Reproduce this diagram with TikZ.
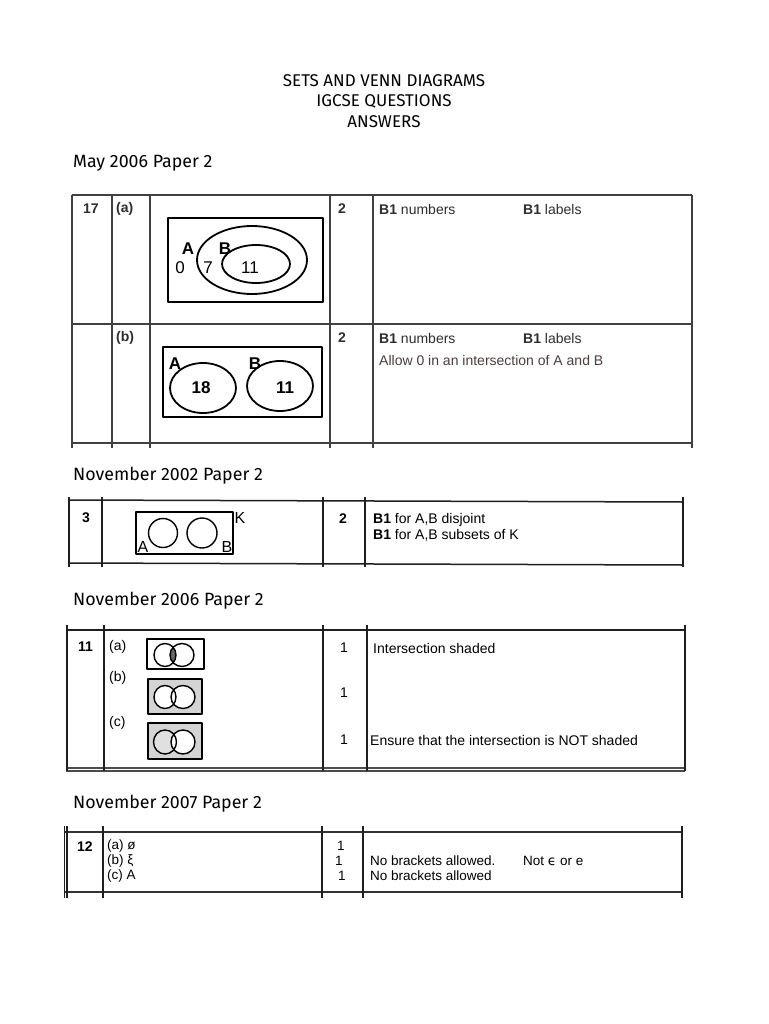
\documentclass[tikz,border=0pt]{standalone}
\usepackage{fontspec}
\setmainfont{Liberation Sans}
\newfontfamily\hand{Fira Sans}
\newfontfamily\dejavu{DejaVu Sans}
\definecolor{allowc}{RGB}{75,62,62}
\begin{document}
\begin{tikzpicture}[x=1pt,y=-1pt,line join=round,
  grida/.style={line width=1.3pt, draw=black!75},
  gridb/.style={line width=1.5pt, draw=black!88},
  ttl/.style={inner sep=0pt, font=\hand\fontsize{17}{18}\selectfont},
  head/.style={anchor=west, inner sep=0pt, font=\hand\fontsize{17.8}{19}\selectfont},
  ta/.style={anchor=west, inner sep=0pt, text=black!82, font=\fontsize{14}{16}\selectfont},
  tb/.style={anchor=west, inner sep=0pt, text=black, font=\fontsize{14}{16}\selectfont},
  tc/.style={anchor=west, inner sep=0pt, text=black, font=\fontsize{13.5}{15}\selectfont},
  vlab/.style={inner sep=0pt, font=\fontsize{16}{18}\selectfont},
  venn/.style={line width=1.8pt, draw=black},
  vennt/.style={line width=1.4pt, draw=black}]
\useasboundingbox[fill=white] (0,0) rectangle (768,1024);

% ---------- title ----------
\node[ttl] (title1) at (384,81) {SETS AND VENN DIAGRAMS};
\node[ttl] (title2) at (384,101) {IGCSE QUESTIONS};
\node[ttl] (title3) at (384,122) {ANSWERS};

% ---------- May 2006 ----------
\node[head] (h1) at (73,163) {May 2006 Paper 2};
\draw[grida] (72,195) -- (692,195);
\draw[grida] (72,324) -- (692,324);
\draw[grida] (72,443) -- (692,443);
\foreach \x in {72,112,150,330,373,692} \draw[grida] (\x,195) -- (\x,448);
\node[ta,font=\bfseries\fontsize{14}{16}\selectfont] (q17) at (83,209) {17};
\node[ta,font=\bfseries\fontsize{14}{16}\selectfont] (q17a) at (116,209) {(a)};
\node[ta,font=\bfseries\fontsize{14}{16}\selectfont] (m17a) at (338,209) {2};
\node[ta] (c17a1) at (379,209) {\textbf{B1} numbers};
\node[ta] (c17a2) at (523,209) {\textbf{B1} labels};
\node[ta,font=\bfseries\fontsize{14}{16}\selectfont] (q17b) at (116,338) {(b)};
\node[ta,font=\bfseries\fontsize{14}{16}\selectfont] (m17b) at (338,338) {2};
\node[ta] (c17b1) at (379,338) {\textbf{B1} numbers};
\node[ta] (c17b2) at (523,338) {\textbf{B1} labels};
\node[ta,text=allowc] (c17b3) at (379,360) {Allow 0 in an intersection of A and B};

% Venn 17(a)
\draw[venn] (168,218) rectangle (323,302);
\draw[venn] (252,260) ellipse [x radius=55, y radius=34];
\draw[venn] (256,264) ellipse [x radius=34, y radius=19];
\node[vlab,font=\bfseries\fontsize{17}{18}\selectfont] (va) at (188,249) {A};
\node[vlab,font=\bfseries\fontsize{17}{18}\selectfont] (vb) at (225,249) {B};
\node[vlab,font=\fontsize{17}{18}\selectfont] (v0) at (180,268) {0};
\node[vlab,font=\fontsize{17}{18}\selectfont] (v7) at (208,268) {7};
\node[vlab,font=\fontsize{17}{18}\selectfont] (v11) at (250,268) {11};

% Venn 17(b)
\draw[venn] (163,347) rectangle (322,417);
\draw[venn] (203,388) ellipse [x radius=33, y radius=25];
\draw[venn] (280,386) ellipse [x radius=33, y radius=25];
\node[vlab,font=\bfseries\fontsize{17}{18}\selectfont] (vba) at (175,364) {A};
\node[vlab,font=\bfseries\fontsize{17}{18}\selectfont] (vbb) at (255,364) {B};
\node[vlab,font=\bfseries\fontsize{17}{18}\selectfont] (v18) at (201,388) {18};
\node[vlab,font=\bfseries\fontsize{17}{18}\selectfont] (vb11) at (285,388) {11};

% ---------- November 2002 ----------
\node[head] (h2) at (73,476) {November 2002 Paper 2};
\draw[gridb] (68,500) -- (683,502);
\draw[gridb] (68,563) -- (683,565);
\foreach \x in {69,102,323,365,683} \draw[gridb] (\x,497) -- (\x,567);
\node[tb,font=\bfseries\fontsize{14}{16}\selectfont] (q3) at (82,518) {3};
\node[tb,font=\bfseries\fontsize{14}{16}\selectfont] (m3) at (339,519) {2};
\node[tb] (c3a) at (373,520) {\textbf{B1} for A,B disjoint};
\node[tb] (c3b) at (373,535) {\textbf{B1} for A,B subsets of K};
\draw[vennt] (136,512) rectangle (233,554);
\draw[vennt] (163,533) circle [radius=14.5];
\draw[vennt] (202,533) circle [radius=15];
\node[vlab] (kk) at (240,518) {K};
\node[vlab] (ka) at (143,547) {A};
\node[vlab] (kb) at (227,547) {B};

% ---------- November 2006 ----------
\node[head] (h3) at (73,601) {November 2006 Paper 2};
\draw[gridb] (66,630) -- (685,630);
\draw[line width=1.2pt, black!70] (66,768) -- (685,768);
\draw[line width=1.2pt, black!70] (66,771) -- (685,771);
\foreach \x in {67,104,323,367,685} \draw[gridb] (\x,625) -- (\x,771);
\node[tb,font=\bfseries\fontsize{14}{16}\selectfont] (q11) at (78,647) {11};
\node[tb] (q11a) at (109,647) {(a)};
\node[tb] (q11b) at (109,678) {(b)};
\node[tb] (q11c) at (109,723) {(c)};
\node[tb] (m11a) at (340,648) {1};
\node[tb] (m11b) at (340,693) {1};
\node[tb] (m11c) at (340,740) {1};
\node[tb] (c11a) at (373,648) {Intersection shaded};
\node[tb] (c11c) at (370,740) {Ensure that the intersection is NOT shaded};
% (a)
\begin{scope}
  \clip (165,655) ellipse [x radius=11, y radius=11.5];
  \fill[black!60] (182,655) ellipse [x radius=12, y radius=11.5];
\end{scope}
\draw[vennt] (147,639) rectangle (204,669);
\draw[vennt] (165,655) ellipse [x radius=11, y radius=11.5];
\draw[vennt] (182,655) ellipse [x radius=12, y radius=11.5];
% (b)
\fill[black!17] (148,679) rectangle (202,714);
\fill[white] (165,697) ellipse [x radius=11, y radius=11.5];
\fill[white] (183,697) ellipse [x radius=12, y radius=11.5];
\draw[vennt] (148,679) rectangle (202,714);
\draw[vennt] (165,697) ellipse [x radius=11, y radius=11.5];
\draw[vennt] (183,697) ellipse [x radius=12, y radius=11.5];
% (c)
\fill[black!17] (148,723) rectangle (202,759);
\fill[black!12] (165,742) ellipse [x radius=11.5, y radius=12];
\fill[white] (183,742) ellipse [x radius=12, y radius=12];
\draw[vennt] (148,723) rectangle (202,759);
\draw[vennt] (165,742) ellipse [x radius=11.5, y radius=12];
\draw[vennt] (183,742) ellipse [x radius=12, y radius=12];

% ---------- November 2007 ----------
\node[head] (h4) at (73,804) {November 2007 Paper 2};
\draw[line width=2pt, black!80] (64,832) -- (682,832);
\draw[line width=1.6pt, black!80] (64,892) -- (682,892);
\draw[gridb,line width=1pt] (64,826) -- (64,898);
\foreach \x in {67,103,322,363,682} \draw[gridb,line width=1.2pt] (\x,826) -- (\x,898);
\node[tc,font=\bfseries\fontsize{14}{16}\selectfont] (q12) at (77,847) {12};
\node[tc] (q12a) at (107,846) {(a) ø};
\node[tc] (q12b) at (107,861) {(b) ξ};
\node[tc] (q12c) at (107,876) {(c) A};
\node[tc] (m12a) at (337,846) {1};
\node[tc] (m12b) at (335,861) {1};
\node[tc] (m12c) at (338,876) {1};
\node[tc] (c12b1) at (370,861) {No brackets allowed.};
\node[tc] (c12b2) at (523,861) {Not {\dejavu ϵ} or e};
\node[tc] (c12c) at (370,876) {No brackets allowed};
\end{tikzpicture}
\end{document}
